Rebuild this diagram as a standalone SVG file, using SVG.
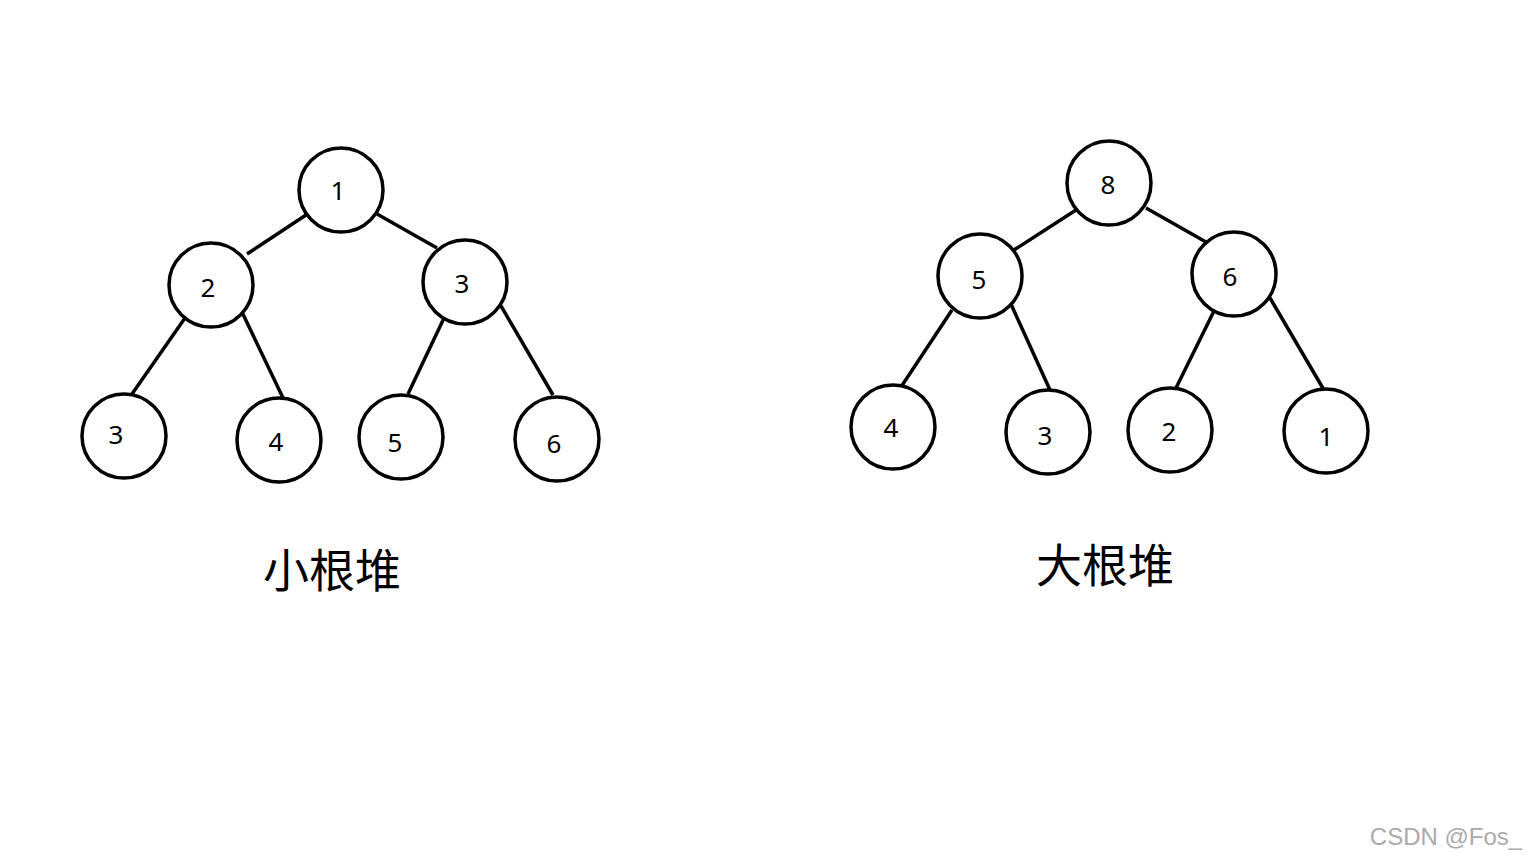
<svg xmlns="http://www.w3.org/2000/svg" width="1536" height="864" viewBox="0 0 1536 864">
<style>
.n circle{fill:#fff;stroke:#000;stroke-width:3.5}
.n text{font-family:"Noto Sans","Liberation Sans",sans-serif;font-size:26px;text-anchor:middle;dominant-baseline:central;fill:#000}
#edges line{stroke:#000;stroke-width:3.5}
.t{font-family:"Noto Sans CJK SC",sans-serif;font-size:46px;text-anchor:middle;fill:#000}
</style>
<rect width="1536" height="864" fill="#fff"/>
<g id="edges">
<line x1="306" y1="215" x2="247" y2="254"/><line x1="377" y1="214" x2="437" y2="248"/>
<line x1="185" y1="318" x2="132" y2="394"/><line x1="241" y1="310" x2="284" y2="400"/>
<line x1="445" y1="316" x2="408" y2="394"/><line x1="501" y1="306" x2="553" y2="395"/>
<line x1="1076" y1="210" x2="1014" y2="250"/><line x1="1146" y1="208" x2="1206" y2="242"/>
<line x1="952" y1="310" x2="901" y2="387"/><line x1="1010" y1="302" x2="1050" y2="390"/>
<line x1="1214" y1="311" x2="1176" y2="388"/><line x1="1270" y1="298" x2="1324" y2="390"/>
</g>
<g id="a1" class="n"><circle cx="341" cy="190" r="42"/><text x="338" y="190">1</text></g>
<g id="a2" class="n"><circle cx="211" cy="285" r="42"/><text x="208" y="287">2</text></g>
<g id="a3" class="n"><circle cx="465" cy="282" r="42"/><text x="462" y="283">3</text></g>
<g id="a4" class="n"><circle cx="124" cy="436" r="42"/><text x="116" y="434">3</text></g>
<g id="a5" class="n"><circle cx="279" cy="440" r="42"/><text x="276" y="441">4</text></g>
<g id="a6" class="n"><circle cx="401" cy="437" r="42"/><text x="395" y="442">5</text></g>
<g id="a7" class="n"><circle cx="557" cy="439" r="42"/><text x="554" y="443">6</text></g>
<g id="b1" class="n"><circle cx="1109" cy="183" r="42"/><text x="1108" y="184">8</text></g>
<g id="b2" class="n"><circle cx="980" cy="276" r="42"/><text x="979" y="279">5</text></g>
<g id="b3" class="n"><circle cx="1234" cy="274" r="42"/><text x="1230" y="276">6</text></g>
<g id="b4" class="n"><circle cx="893" cy="427" r="42"/><text x="891" y="427">4</text></g>
<g id="b5" class="n"><circle cx="1048" cy="432" r="42"/><text x="1045" y="435">3</text></g>
<g id="b6" class="n"><circle cx="1170" cy="430" r="42"/><text x="1169" y="431">2</text></g>
<g id="b7" class="n"><circle cx="1326" cy="431" r="42"/><text x="1326" y="436">1</text></g>
<text class="t" x="332" y="587">小根堆</text>
<text class="t" x="1105" y="582">大根堆</text>
<text x="1446" y="845" font-family="Liberation Sans,sans-serif" font-size="24" fill="#aaa" text-anchor="middle">CSDN @Fos_</text>
</svg>
